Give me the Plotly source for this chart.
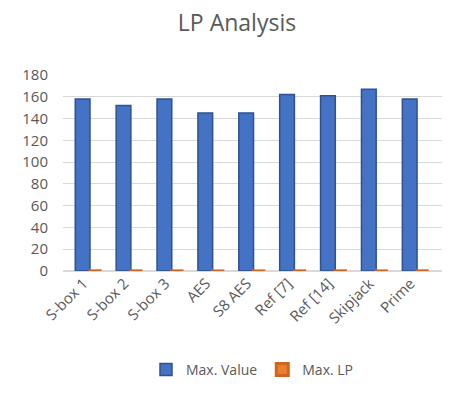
import plotly.graph_objects as go

categories = ["S-box 1", "S-box 2", "S-box 3", "AES", "S8 AES", "Ref [7]", "Ref [14]", "Skipjack", "Prime"]
max_value = [158, 152, 158, 145, 145, 162, 161, 167, 158]
max_lp = [0.14, 0.14, 0.14, 0.06, 0.06, 0.14, 0.14, 0.06, 0.14]
y_ticks = [0, 20, 40, 60, 80, 100, 120, 140, 160, 180]

fig = go.Figure()
fig.add_trace(go.Bar(
    x=categories, y=max_value, name="Max. Value",
    width=0.36, offset=-0.2,
    marker=dict(color="#4472C4", line=dict(color="#2F528F", width=1.5)),
))
fig.add_trace(go.Bar(
    x=categories, y=max_lp, name="Max. LP",
    width=0.25, offset=0.16,
    marker=dict(color="#ED7D31", line=dict(color="#D0651F", width=3)),
))

font_family = "Open Sans, Liberation Sans, sans-serif"
fig.update_layout(
    width=474, height=398,
    paper_bgcolor="white", plot_bgcolor="white",
    margin=dict(l=63, r=32, t=75, b=127),
    barmode="overlay",
    title=dict(text="LP Analysis", x=0.5, xanchor="center", y=0.942, yanchor="middle",
               font=dict(family=font_family, size=23, color="#595959")),
    xaxis=dict(tickangle=-45, tickfont=dict(family=font_family, size=15, color="#595959"),
               range=[-0.5, 8.77],
               showgrid=False, showline=False, ticks=""),
    yaxis=dict(range=[0, 180], tickvals=y_ticks, showgrid=True, gridcolor="#D9D9D9",
               zeroline=True, zerolinecolor="#D9D9D9",
               tickfont=dict(family=font_family, size=15, color="#595959"), ticks="", ticklabelstandoff=14),
    legend=dict(orientation="h", x=0.5, xanchor="center", y=-0.505, yanchor="middle",
                itemwidth=30,
                font=dict(family=font_family, size=14, color="#595959")),
    showlegend=True,
)
fig.write_html("out.html", config={"displayModeBar": False},
               post_script="document.body.style.margin='0';")
